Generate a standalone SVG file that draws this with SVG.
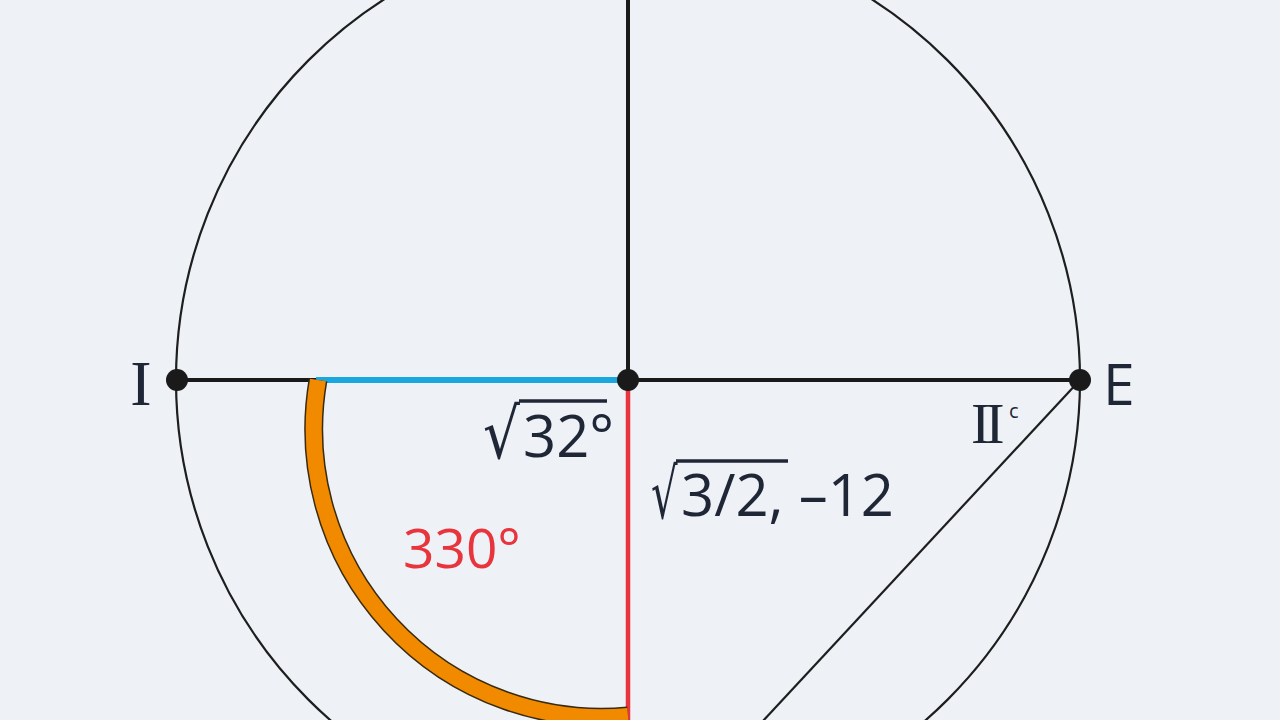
<svg xmlns="http://www.w3.org/2000/svg" width="1280" height="720" viewBox="0 0 1280 720">
  <style>
    .lbl { font-family: "Open Sans", "Liberation Sans", sans-serif; fill: #1f2636; }
    .serif { font-family: "Liberation Serif", "DejaVu Serif", serif; fill: #1f2636; }
    .rad { font-family: "DejaVu Sans", sans-serif; fill: #1f2636; }
    .axis { stroke: #1a1a1a; stroke-width: 4; fill: none; }
    .dot { fill: #1a1a1a; }
  </style>
  <rect width="1280" height="720" fill="#eef2f7"/>
  <g id="circle">
    <circle cx="628" cy="380" r="452" fill="none" stroke="#1e1e1e" stroke-width="2.2"/>
  </g>
  <g id="connectors">
    <line class="axis" x1="628" y1="0" x2="628" y2="380"/>
    <line class="axis" x1="177" y1="380" x2="318" y2="380"/>
    <line class="axis" x1="628" y1="380" x2="1080" y2="380"/>
    <line x1="316" y1="380" x2="628" y2="380" stroke="#1aa7df" stroke-width="6"/>
    <line x1="628" y1="380" x2="628" y2="720" stroke="#e8343c" stroke-width="4.5"/>
    <line x1="1080" y1="380" x2="762" y2="722" stroke="#1e1e1e" stroke-width="2.2"/>
    <path d="M 318 380 A 288 288 0 0 0 628 716" fill="none" stroke="#3a2a10" stroke-width="19"/>
    <path d="M 318 380 A 288 288 0 0 0 628 716" fill="none" stroke="#f28a00" stroke-width="16"/>
  </g>
  <g id="point-I">
    <circle class="dot" cx="177" cy="380" r="11"/>
    <text class="serif" x="141" y="405" font-size="64" text-anchor="middle">I</text>
  </g>
  <g id="point-O">
    <circle class="dot" cx="628" cy="380" r="11"/>
  </g>
  <g id="point-E">
    <circle class="dot" cx="1080" cy="380" r="11"/>
    <text class="lbl" x="1103" y="405" font-size="57" letter-spacing="1">E</text>
  </g>
  <g id="label-II">
    <text class="serif" x="971" y="443" font-size="58" letter-spacing="-5">II</text>
    <text class="lbl" x="1009" y="418" font-size="20">c</text>
  </g>
  <g id="label-sqrt32">
    <text class="rad" transform="translate(483,458) scale(1,1.2)" x="0" y="0" font-size="58">√</text>
    <line x1="519" y1="401" x2="607" y2="401" stroke="#1f2636" stroke-width="3.5"/>
    <text class="lbl" x="523" y="457" font-size="58">32°</text>
  </g>
  <g id="label-coords">
    <text class="rad" transform="translate(651,518) scale(0.72,1.2)" x="0" y="0" font-size="58">√</text>
    <line x1="676" y1="461" x2="788" y2="461" stroke="#1f2636" stroke-width="3.5"/>
    <text class="lbl" x="681" y="516" font-size="58">3/2, –12</text>
  </g>
  <g id="label-330">
    <text class="lbl" x="403" y="568" font-size="55" style="fill:#e8343c">330°</text>
  </g>
</svg>
